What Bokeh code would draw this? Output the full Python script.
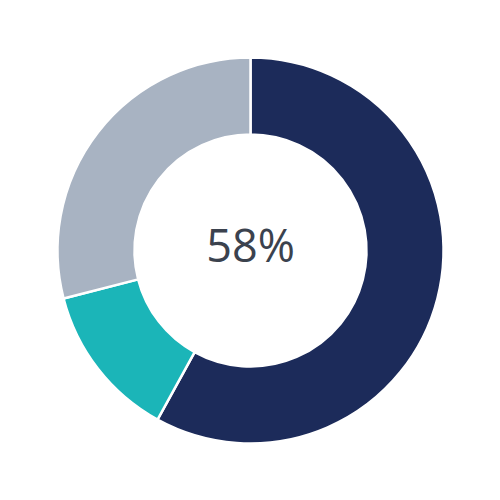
import math
from bokeh.plotting import figure
from bokeh.models import ColumnDataSource
from bokeh.core.properties import value
from bokeh.embed import file_html
from bokeh.resources import INLINE

categories = ["A", "B", "C"]
values = [58, 13, 29]
colors = ["#1c2b5a", "#1bb5b8", "#a8b3c2"]
center_label = "58%"

total = sum(values)
starts, ends = [], []
acc = 0.0
for v in values:
    a0 = math.pi / 2 - 2 * math.pi * acc / total
    acc += v
    a1 = math.pi / 2 - 2 * math.pi * acc / total
    starts.append(a0)
    ends.append(a1)

src = ColumnDataSource(dict(cat=categories, val=values, color=colors,
                            start=starts, end=ends))

W = 484
CX, CY = 250, W - 250
p = figure(width=W, height=W, x_range=(0, W), y_range=(0, W),
           output_backend="svg", toolbar_location=None, min_border=0)
p.axis.visible = False
p.grid.visible = False
p.outline_line_color = None
p.background_fill_color = "white"

p.annular_wedge(x=CX, y=CY, inner_radius=116, outer_radius=193,
                start_angle="start", end_angle="end", direction="clock",
                fill_color="color", line_color="white", line_width=2.5,
                source=src)

p.text(x=[CX], y=[CY + 6], text=[center_label], text_font=value("Open Sans"),
       text_font_size="45px", text_color="#3b424e", text_align="center",
       text_baseline="middle")

open("out.html", "w").write(file_html(p, INLINE))
